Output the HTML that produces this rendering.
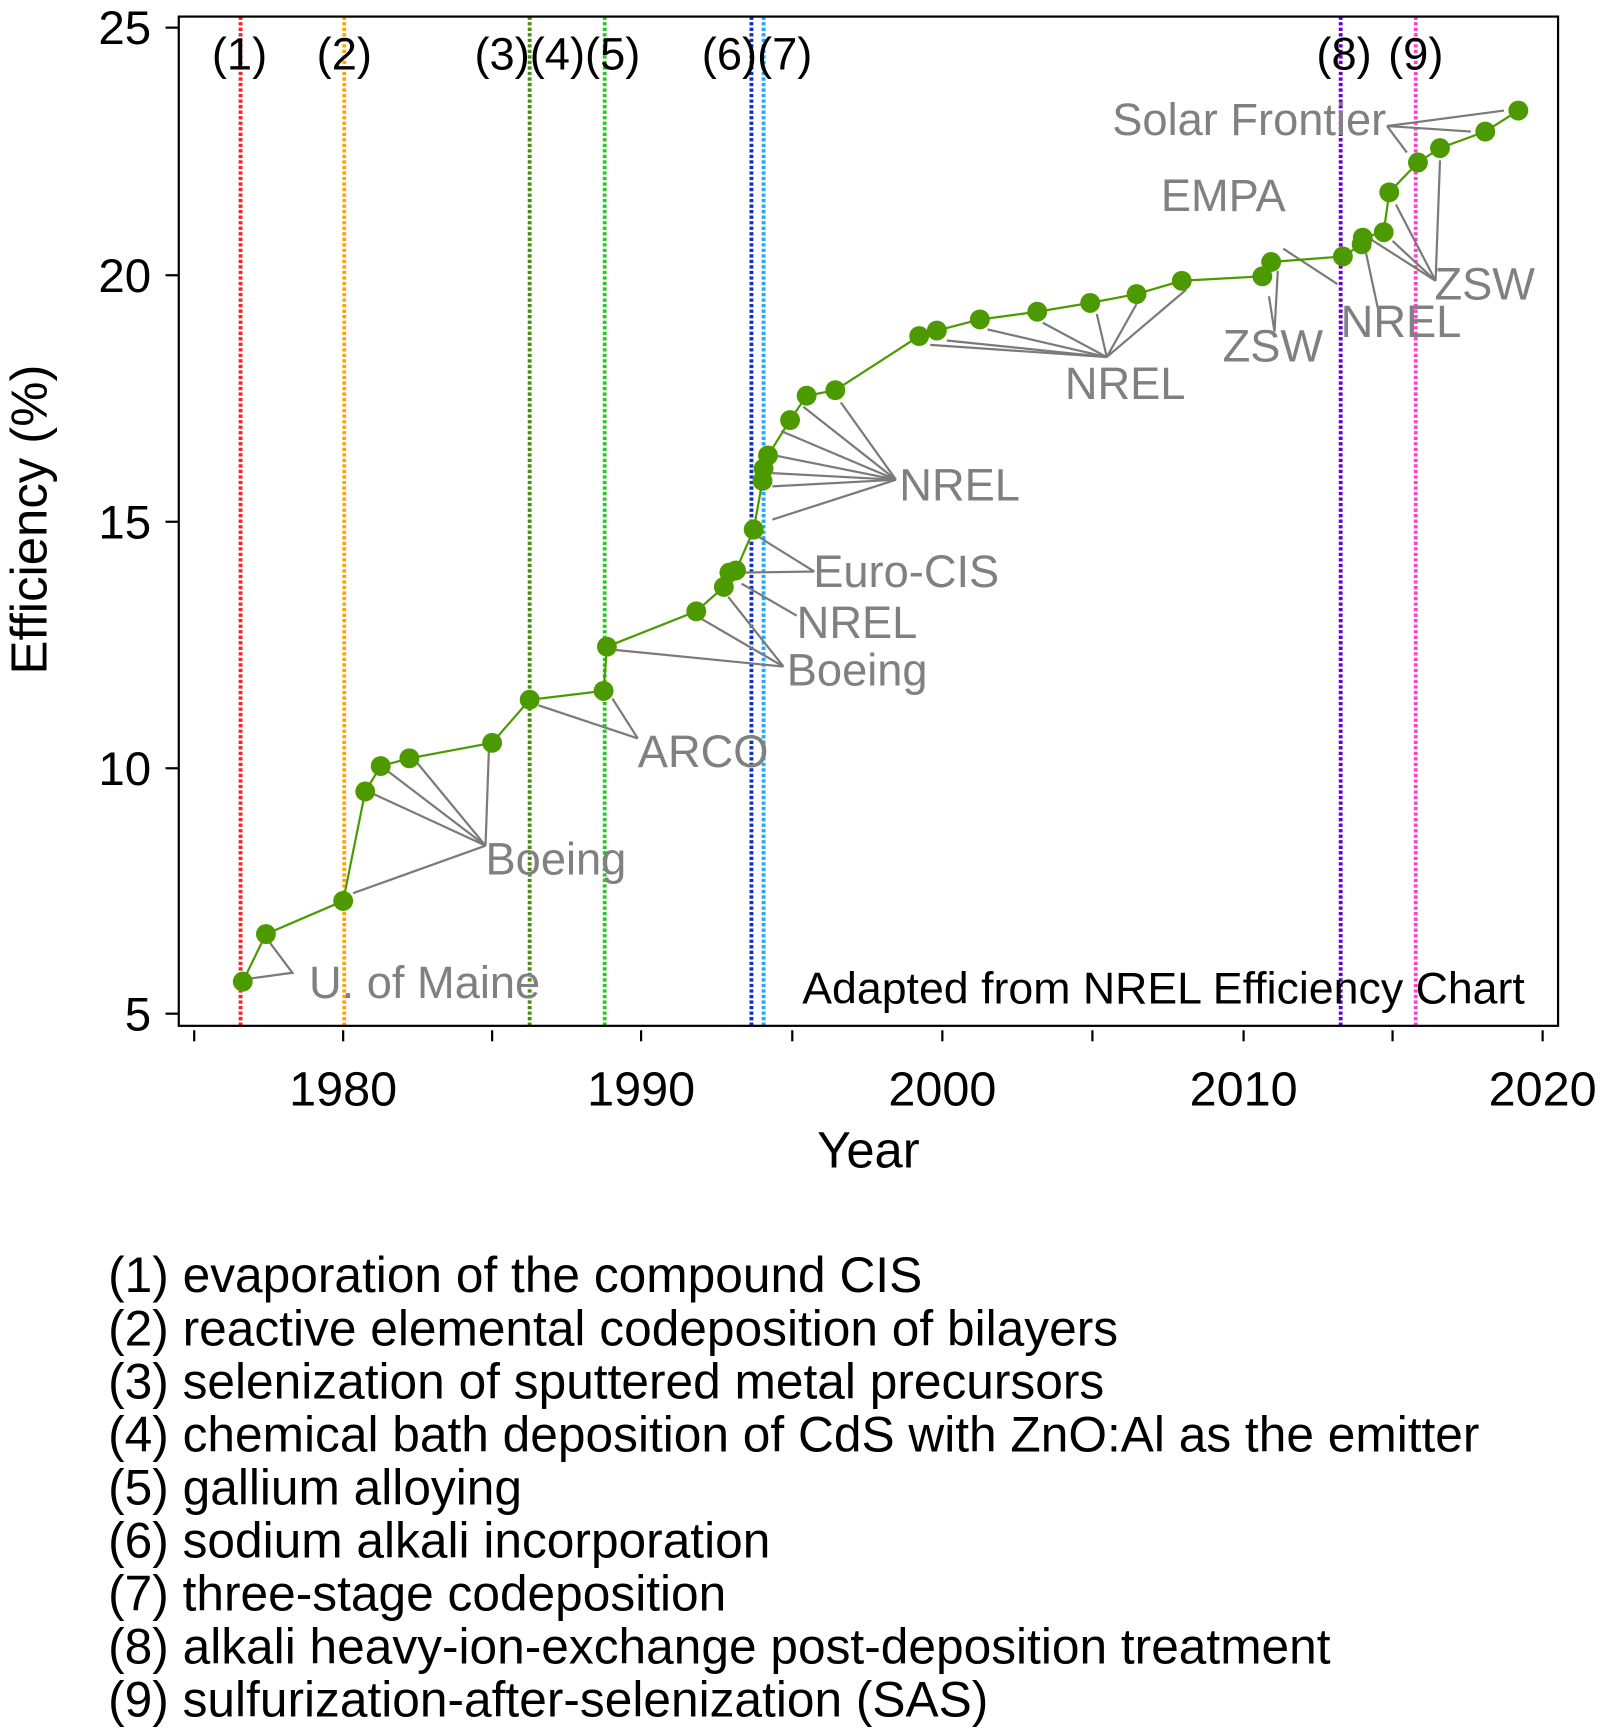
<!DOCTYPE html>
<html><head><meta charset="utf-8"><style>
html,body{margin:0;padding:0;background:#fff;}
svg{display:block;}
text{font-family:"Liberation Sans",Arial,sans-serif;}
</style></head><body>
<svg width="1600" height="1730" viewBox="0 0 1450 1565" preserveAspectRatio="none" xmlns="http://www.w3.org/2000/svg">
<rect x="0" y="0" width="1450" height="1565" fill="#fff"/>
<g stroke-width="3.5" stroke-dasharray="3,2">
<line x1="218" y1="15" x2="218" y2="928" stroke="#ff2020"/>
<line x1="312" y1="15" x2="312" y2="928" stroke="#ffa500"/>
<line x1="480" y1="15" x2="480" y2="928" stroke="#4a8a10"/>
<line x1="548" y1="15" x2="548" y2="928" stroke="#22cc22"/>
<line x1="681" y1="15" x2="681" y2="928" stroke="#1030c0"/>
<line x1="692" y1="15" x2="692" y2="928" stroke="#20a8ff"/>
<line x1="1215" y1="15" x2="1215" y2="928" stroke="#6a00d0"/>
<line x1="1283" y1="15" x2="1283" y2="928" stroke="#ff40d0"/>
</g>
<rect x="162" y="15" width="1250" height="913" fill="none" stroke="#000" stroke-width="2"/>
<g stroke="#000" stroke-width="2">
<line x1="150" y1="25" x2="162" y2="25"/><line x1="150" y1="249" x2="162" y2="249"/>
<line x1="150" y1="472" x2="162" y2="472"/><line x1="150" y1="695" x2="162" y2="695"/>
<line x1="150" y1="917" x2="162" y2="917"/>
<line x1="176" y1="932" x2="176" y2="942"/><line x1="311" y1="932" x2="311" y2="942"/>
<line x1="446" y1="932" x2="446" y2="942"/><line x1="581" y1="932" x2="581" y2="942"/>
<line x1="718" y1="932" x2="718" y2="942"/><line x1="854" y1="932" x2="854" y2="942"/>
<line x1="990" y1="932" x2="990" y2="942"/><line x1="1127" y1="932" x2="1127" y2="942"/>
<line x1="1262" y1="932" x2="1262" y2="942"/><line x1="1398" y1="932" x2="1398" y2="942"/>
</g>
<g font-size="43" text-anchor="end" fill="#000">
<text x="137" y="40">25</text><text x="137" y="264">20</text><text x="137" y="487">15</text>
<text x="137" y="710">10</text><text x="137" y="932">5</text>
</g>
<g font-size="44" text-anchor="middle" fill="#000">
<text x="311" y="1000">1980</text><text x="581" y="1000">1990</text><text x="854" y="1000">2000</text>
<text x="1127" y="1000">2010</text><text x="1398" y="1000">2020</text>
<text x="787" y="1056" font-size="46">Year</text>
<text transform="translate(42,470) rotate(-90)" font-size="46">Efficiency (%)</text>
</g>
<g font-size="41" fill="#000">
<text x="192" y="63">(1)</text><text x="287" y="63">(2)</text>
<text x="430" y="63">(3)(4)(5)</text><text x="636" y="63">(6)(7)</text>
<text x="1193" y="63">(8)</text><text x="1258" y="63">(9)</text>
<text x="727" y="908" font-size="40.5">Adapted from NREL Efficiency Chart</text>
</g>
<g stroke="#7a7a7a" stroke-width="2" fill="none">
<polyline points="228,885 265,880 241,848"/>
<line x1="320" y1="808" x2="440" y2="765"/>
<line x1="338" y1="718" x2="440" y2="765"/><line x1="352" y1="698" x2="440" y2="765"/>
<line x1="378" y1="690" x2="440" y2="765"/><line x1="443" y1="680" x2="440" y2="765"/>
<line x1="488" y1="638" x2="578" y2="668"/><line x1="555" y1="632" x2="578" y2="668"/>
<line x1="558" y1="588" x2="710" y2="603"/><line x1="636" y1="560" x2="710" y2="603"/>
<line x1="660" y1="540" x2="710" y2="603"/>
<line x1="672" y1="528" x2="722" y2="557"/>
<line x1="672" y1="518" x2="738" y2="517"/><line x1="688" y1="486" x2="738" y2="517"/>
<line x1="700" y1="470" x2="812" y2="434"/><line x1="700" y1="440" x2="812" y2="434"/>
<line x1="700" y1="428" x2="812" y2="434"/><line x1="702" y1="412" x2="812" y2="434"/>
<line x1="708" y1="390" x2="812" y2="434"/><line x1="728" y1="368" x2="812" y2="434"/>
<line x1="762" y1="364" x2="812" y2="434"/>
<line x1="843" y1="312" x2="1003" y2="323"/><line x1="858" y1="308" x2="1003" y2="323"/>
<line x1="895" y1="298" x2="1003" y2="323"/><line x1="945" y1="292" x2="1003" y2="323"/>
<line x1="994" y1="284" x2="1003" y2="323"/><line x1="1030" y1="275" x2="1003" y2="323"/>
<line x1="1075" y1="262" x2="1003" y2="323"/>
<polyline points="1150,268 1155,300 1158,245"/>
<line x1="1163" y1="225" x2="1212" y2="257"/>
<line x1="1238" y1="229" x2="1250" y2="285"/>
<line x1="1240" y1="215" x2="1301" y2="254"/><line x1="1262" y1="218" x2="1301" y2="254"/>
<line x1="1265" y1="185" x2="1301" y2="254"/><line x1="1305" y1="145" x2="1301" y2="254"/>
<line x1="1257" y1="114" x2="1363" y2="100"/><line x1="1257" y1="114" x2="1333" y2="119"/>
<line x1="1257" y1="114" x2="1275" y2="138"/>
</g>
<g font-size="41" fill="#808080">
<text x="280" y="903">U. of Maine</text>
<text x="440" y="791">Boeing</text>
<text x="578" y="694">ARCO</text>
<text x="713" y="620">Boeing</text>
<text x="722" y="577">NREL</text>
<text x="737" y="531">Euro-CIS</text>
<text x="815" y="453">NREL</text>
<text x="965" y="361">NREL</text>
<text x="1108" y="327">ZSW</text>
<text x="1052" y="191">EMPA</text>
<text x="1215" y="305">NREL</text>
<text x="1300" y="271">ZSW</text>
<text x="1008" y="122">Solar Frontier</text>
</g>
<polyline fill="none" stroke="#4c9a00" stroke-width="2" points="220,888 241,845 311,815 331,716 345,693 371,686 446,672 480,633 547,625 550,585 631,553 656,531 661,518 667,516 683,479 691,435 692,424 696,412 716,380 731,358 757,353 833,304 849,299 888,289 940,282 988,274 1030,266 1071,254 1144,250 1152,237 1217,232 1234,221 1235,215 1254,210 1259,174 1285,147 1305,134 1346,119 1376,100"/>
<g fill="#4c9a00">
<circle cx="220" cy="888" r="9"/><circle cx="241" cy="845" r="9"/><circle cx="311" cy="815" r="9"/>
<circle cx="331" cy="716" r="9"/><circle cx="345" cy="693" r="9"/><circle cx="371" cy="686" r="9"/>
<circle cx="446" cy="672" r="9"/><circle cx="480" cy="633" r="9"/><circle cx="547" cy="625" r="9"/>
<circle cx="550" cy="585" r="9"/><circle cx="631" cy="553" r="9"/><circle cx="656" cy="531" r="9"/>
<circle cx="661" cy="518" r="9"/><circle cx="667" cy="516" r="9"/><circle cx="683" cy="479" r="9"/>
<circle cx="691" cy="435" r="9"/><circle cx="692" cy="424" r="9"/><circle cx="696" cy="412" r="9"/>
<circle cx="716" cy="380" r="9"/><circle cx="731" cy="358" r="9"/><circle cx="757" cy="353" r="9"/>
<circle cx="833" cy="304" r="9"/><circle cx="849" cy="299" r="9"/><circle cx="888" cy="289" r="9"/>
<circle cx="940" cy="282" r="9"/><circle cx="988" cy="274" r="9"/><circle cx="1030" cy="266" r="9"/>
<circle cx="1071" cy="254" r="9"/><circle cx="1144" cy="250" r="9"/><circle cx="1152" cy="237" r="9"/>
<circle cx="1217" cy="232" r="9"/><circle cx="1234" cy="221" r="9"/><circle cx="1235" cy="215" r="9"/>
<circle cx="1254" cy="210" r="9"/><circle cx="1259" cy="174" r="9"/><circle cx="1285" cy="147" r="9"/>
<circle cx="1305" cy="134" r="9"/><circle cx="1346" cy="119" r="9"/><circle cx="1376" cy="100" r="9"/>
</g>
<g font-size="45" fill="#000">
<text x="98" y="1169">(1) evaporation of the compound CIS</text>
<text x="98" y="1217">(2) reactive elemental codeposition of bilayers</text>
<text x="98" y="1265">(3) selenization of sputtered metal precursors</text>
<text x="98" y="1313">(4) chemical bath deposition of CdS with ZnO:Al as the emitter</text>
<text x="98" y="1361">(5) gallium alloying</text>
<text x="98" y="1409">(6) sodium alkali incorporation</text>
<text x="98" y="1457">(7) three-stage codeposition</text>
<text x="98" y="1505">(8) alkali heavy-ion-exchange post-deposition treatment</text>
<text x="98" y="1553">(9) sulfurization-after-selenization (SAS)</text>
</g>
</svg>
</body></html>
